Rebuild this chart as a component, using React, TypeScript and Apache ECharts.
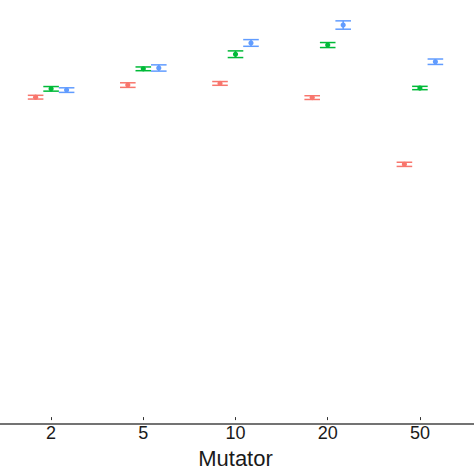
import { useEffect, useRef } from 'react';
import * as echarts from 'echarts';

const mutators = ['2', '5', '10', '20', '50'];

// mean and half-width of error bar, per group (hidden y scale 0-100)
const redMean = [76.7, 79.6, 80.0, 76.6, 60.6];
const redErr = [0.45, 0.55, 0.45, 0.45, 0.5];
const greenMean = [78.7, 83.5, 87.0, 89.2, 78.9];
const greenErr = [0.55, 0.45, 0.8, 0.6, 0.4];
const blueMean = [78.4, 83.7, 89.7, 94.0, 85.2];
const blueErr = [0.55, 0.75, 0.8, 1.0, 0.65];

const groups = [
  { name: 'A', color: '#F8766D', mean: redMean, err: redErr, shift: -1 },
  { name: 'B', color: '#00BA38', mean: greenMean, err: greenErr, shift: 0 },
  { name: 'C', color: '#619CFF', mean: blueMean, err: blueErr, shift: 1 },
];

export default function App() {
  const chartRef = useRef<HTMLDivElement>(null);

  useEffect(() => {
    if (!chartRef.current) return;
    const chart = echarts.init(chartRef.current, null, { renderer: 'svg' });

    const series = groups.map(g => ({
      type: 'custom',
      name: g.name,
      data: g.mean.map((m, i) => [i, m, m - g.err[i], m + g.err[i]]),
      renderItem: (params: any, api: any) => {
        const band = api.size([1, 0])[0];
        const dx = g.shift * band * 0.168;
        const mid = api.coord([api.value(0), api.value(1)]);
        const lo = api.coord([api.value(0), api.value(2)]);
        const hi = api.coord([api.value(0), api.value(3)]);
        const x = mid[0] + dx;
        const half = 7.8;
        const ls = { stroke: g.color, lineWidth: 1.5 };
        return {
          type: 'group',
          children: [
            { type: 'line', shape: { x1: x, y1: lo[1], x2: x, y2: hi[1] }, style: ls },
            { type: 'line', shape: { x1: x - half, y1: lo[1], x2: x + half, y2: lo[1] }, style: ls },
            { type: 'line', shape: { x1: x - half, y1: hi[1], x2: x + half, y2: hi[1] }, style: ls },
            { type: 'circle', shape: { cx: x, cy: mid[1], r: 2.6 }, style: { fill: g.color } },
          ],
        };
      },
    }));

    chart.setOption({
      animation: false,
      grid: { left: 5, right: 8, top: 0, bottom: 50 },
      xAxis: {
        type: 'category',
        data: mutators,
        name: 'Mutator',
        nameLocation: 'middle',
        nameGap: 25,
        nameTextStyle: { fontSize: 22, color: '#1a1a1a', fontFamily: 'Liberation Sans' },
        axisLine: { show: false },
        axisTick: { show: true, alignWithLabel: true, length: 3, lineStyle: { color: '#333', width: 1 } },
        axisLabel: { fontSize: 18, color: '#1a1a1a', margin: 7, fontFamily: 'Liberation Sans' },
      },
      yAxis: { type: 'value', min: 0, max: 100, show: false },
      graphic: [
        {
          type: 'line',
          shape: { x1: 0, y1: 424, x2: 474, y2: 424 },
          style: { stroke: '#444', lineWidth: 1.3 },
        },
      ],
      series,
    });

    return () => chart.dispose();
  }, []);

  return (
    <div
      ref={chartRef}
      style={{ position: 'fixed', left: 0, top: 0, width: 474, height: 474, background: '#fff' }}
    />
  );
}
